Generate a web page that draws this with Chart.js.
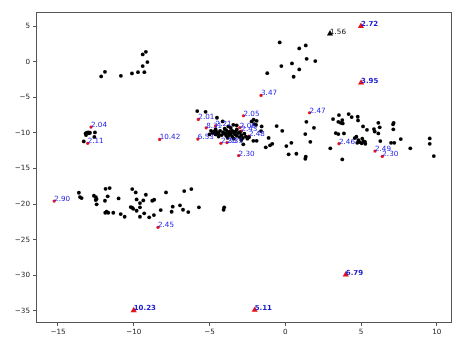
<!DOCTYPE html>
<html>
<head>
<meta charset="UTF-8">
<title>scatter</title>
<script src="https://cdn.jsdelivr.net/npm/chart.js"></script>
<style>
  body { margin: 0; padding: 0; background: #fff; }
  canvas { display: block; }
</style>
</head>
<body>
<canvas id="plot" width="474" height="349"></canvas>
<script>
// axis ticks
const xTicks = [-15, -10, -5, 0, 5, 10];
const yTicks = [5, 0, -5, -10, -15, -20, -25, -30, -35];

// plain black points
const blackX = [
  -12.15, -11.9, -10.85, -10.12, -9.72, -9.3, -9.41, -9.1, -9.41, -9.2,
  -0.37, 0.92, 1.35, 1.41, 1.98, -0.26, 0.44, 0.92, 0.55, -1.19,
  -13.3, -13.18, -13.09, -13.0, -12.89, -13.15, -12.56, -12.6, -12.95,
  -5.81, -5.26, -4.51, -4.13, -3.43, -3.21, -3.76,
  -4.8, -4.7, -4.6, -4.5, -4.4, -4.3, -4.2, -4.1, -4.0, -3.9, -3.9, -3.8, -3.7, -3.7, -3.6,
  -3.5, -3.5, -3.4, -3.3, -3.3, -3.2, -3.1, -3.0, -3.0, -2.9, -2.8, -2.7, -2.6, -2.5, -2.4,
  -4.6, -4.0, -3.6, -3.2, -4.4, -3.8, -3.4, -2.9, -5.0, -4.9,
  -2.22, -2.09, -1.89, -2.05, -1.93, -1.56, -1.6, -2.11, -1.89, -2.77, -1.29, -1.01, -0.86, -1.1, -0.57, -0.2,
  0.07, 0.40, 0.22, 0.73, 1.35, 1.32, 1.65, 1.32, 1.39, 1.89, 2.97, 3.76,
  3.15, 3.54, 3.5, 3.66, 3.76, 3.79, 4.18, 4.38, 4.78, 4.8, 5.13, 5.39, 5.85, 6.14, 6.23, 6.14, 5.9,
  7.15, 7.11, 7.13, 6.27, 6.98, 7.19, 7.62, 8.25, 9.53, 9.53, 9.8,
  3.33, 3.5, 3.87, 4.58, 4.69, 4.82, 4.91, 5.08, 5.04, 5.28, 5.17, 4.75, 5.26,
  -13.62, -13.55, -13.44, -12.63, -12.5, -12.45, -12.51, -12.45, -11.86, -11.59, -11.72, -11.9, -11.0,
  -11.88, -11.79, -11.68, -11.35, -10.86, -10.6, -10.1, -9.87, -9.81, -9.59, -9.2, -9.37, -8.78, -8.65,
  -10.2, -10.1, -10.03, -9.81, -9.59, -9.59, -9.31, -8.98, -8.67, -8.22, -7.87, -7.43, -7.5, -6.95,
  -6.75, -6.67, -6.2, -6.4, -5.7, -4.03, -4.07
];
const blackY = [
  -2.05, -1.4, -1.97, -1.63, -1.45, -1.45, -0.6, -0.04, 1.04, 1.4,
  2.72, 1.88, 2.3, 0.42, 0.1, -0.6, -0.23, -1.07, -2.1, -1.59,
  -11.18, -10.06, -9.97, -9.92, -9.97, -10.3, -9.92, -10.55, -10.05,
  -6.92, -7.02, -7.86, -8.37, -8.85, -8.93, -9.08,
  -10.0, -9.8, -10.2, -9.9, -10.1, -9.7, -10.3, -9.9, -10.1, -9.6, -10.4, -10.0, -9.8, -10.3, -10.1,
  -9.7, -10.5, -10.0, -10.2, -9.8, -10.4, -10.0, -10.6, -9.9, -10.3, -10.7, -10.1, -10.5, -10.8, -10.6,
  -9.5, -9.4, -9.3, -9.5, -10.5, -10.7, -10.8, -11.0, -10.2, -9.7,
  -8.37, -8.14, -8.29, -8.75, -8.85, -9.08, -9.73, -11.1, -11.1, -11.6, -12.02, -11.74, -11.52, -10.7, -9.03, -9.69,
  -11.84, -11.38, -13.0, -12.92, -13.34, -13.62, -11.24, -10.15, -8.43, -9.27, -12.16, -13.71,
  -8.05, -7.49, -8.43, -8.57, -8.19, -8.65, -7.35, -7.77, -7.72, -8.23, -9.08, -9.55, -9.45, -8.57, -9.21, -10.06, -9.8,
  -8.57, -8.79, -9.49, -11.14, -11.38, -11.38, -10.86, -12.16, -10.76, -11.52, -13.24,
  -10.01, -10.15, -10.06, -10.72, -10.53, -11.0, -11.28, -10.81, -11.46, -11.52, -11.18, -11.38, -11.24,
  -18.4, -19.0, -19.15, -18.82, -19.0, -19.28, -19.42, -20.03, -17.84, -17.74, -18.9, -19.52, -19.19,
  -21.21, -21.07, -21.21, -21.21, -21.39, -21.77, -17.88, -18.35, -19.33, -19.85, -18.68, -19.47, -19.52, -19.38,
  -20.41, -20.5, -20.65, -20.93, -20.45, -21.77, -21.29, -21.85, -21.53, -20.83, -18.35, -20.36, -21.07, -20.17,
  -20.79, -18.16, -17.88, -21.11, -20.45, -20.45, -20.79
];

// red dots with blue labels
const redX = [-12.82, -13.04, -8.29, -5.74, -5.77, -5.22, -4.6, -3.0, -2.9, -2.4, -4.25, -3.85,
  -2.76, -3.08, -1.6, 1.6, 3.54, 5.92, 6.4, -15.25, -8.4];
const redY = [-9.17, -11.46, -10.9, -8.1, -10.85, -9.27, -9.0, -9.24, -9.75, -10.45, -11.45, -11.35,
  -7.58, -13.18, -4.72, -7.16, -11.5, -12.54, -13.3, -19.57, -23.26];
const redLabels = ['2.04', '2.11', '10.42', '2.01', '6.53', '8.31', '2.21', '2.06', '2.43', '2.48', '2.30', '2.35',
  '2.05', '2.30', '3.47', '2.47', '2.46', '2.49', '2.30', '2.90', '2.45'];

// red triangles with bold labels
const triX = [4.99, 5.0, 3.99, -2.02, -10.0];
const triY = [5.01, -2.95, -29.9, -34.87, -34.92];
const triLabels = ['2.72', '3.95', '6.79', '5.11', '10.23'];

// black triangle
const markX = [2.95];
const markY = [3.95];
const markLabels = ['1.56'];

const FONT = '"DejaVu Sans", sans-serif';
const toPts = (xs, ys) => xs.map((x, i) => ({ x: x, y: ys[i] }));

const labelPlugin = {
  id: 'pointLabels',
  afterDatasetsDraw(chart) {
    const c = chart.ctx;
    const a = chart.chartArea;
    // box around the plot
    c.save();
    c.strokeStyle = '#555';
    c.lineWidth = 1;
    c.strokeRect(Math.round(a.left) + 0.5, Math.round(a.top) + 0.5,
      Math.round(a.right - a.left) - 1, Math.round(a.bottom - a.top) - 1);
    c.restore();
    chart.data.datasets.forEach((ds, i) => {
      if (!ds.labels) return;
      const meta = chart.getDatasetMeta(i);
      c.save();
      c.font = ds.labelFont;
      c.fillStyle = ds.labelColor;
      c.textAlign = 'left';
      c.textBaseline = 'alphabetic';
      meta.data.forEach((pt, j) => c.fillText(ds.labels[j], pt.x, pt.y));
      c.restore();
    });
  }
};

const minus = v => (v < 0 ? '\u2212' + Math.abs(v) : String(v));

new Chart(document.getElementById('plot'), {
  type: 'scatter',
  data: {
    datasets: [
      { data: toPts(blackX, blackY), backgroundColor: '#000', borderWidth: 0, pointRadius: 1.9 },
      { data: toPts(redX, redY), backgroundColor: '#e8101a', borderWidth: 0, pointRadius: 1.6,
        labels: redLabels, labelFont: '7.2px ' + FONT, labelColor: '#2222ee' },
      { data: toPts(triX, triY), backgroundColor: '#e8101a', borderWidth: 0, pointRadius: 3.6, pointStyle: 'triangle',
        labels: triLabels, labelFont: 'bold 7px ' + FONT, labelColor: '#1a1ad0' },
      { data: toPts(markX, markY), backgroundColor: '#000', borderWidth: 0, pointRadius: 3.6, pointStyle: 'triangle',
        labels: markLabels, labelFont: '7.2px ' + FONT, labelColor: '#111' }
    ]
  },
  options: {
    responsive: false,
    animation: false,
    layout: { padding: { left: 0, right: 22, top: 12, bottom: 0 } },
    plugins: { legend: { display: false }, tooltip: { enabled: false } },
    scales: {
      x: {
        type: 'linear',
        min: -16.45,
        max: 11.0,
        afterBuildTicks: s => { s.ticks = xTicks.map(v => ({ value: v })); },
        afterFit: s => { s.height = 26; },
        grid: { drawOnChartArea: false, drawTicks: true, tickLength: 3, color: '#555' },
        border: { display: false },
        ticks: { padding: 2, color: '#222', font: { family: FONT, size: 7.2 }, callback: v => minus(v) }
      },
      y: {
        type: 'linear',
        min: -36.7,
        max: 7.0,
        afterBuildTicks: s => { s.ticks = yTicks.map(v => ({ value: v })); },
        afterFit: s => { s.width = 36; },
        grid: { drawOnChartArea: false, drawTicks: true, tickLength: 3, color: '#555' },
        border: { display: false },
        ticks: { padding: 3, color: '#222', font: { family: FONT, size: 7.2 }, callback: v => minus(v) }
      }
    }
  },
  plugins: [labelPlugin]
});
</script>
</body>
</html>
